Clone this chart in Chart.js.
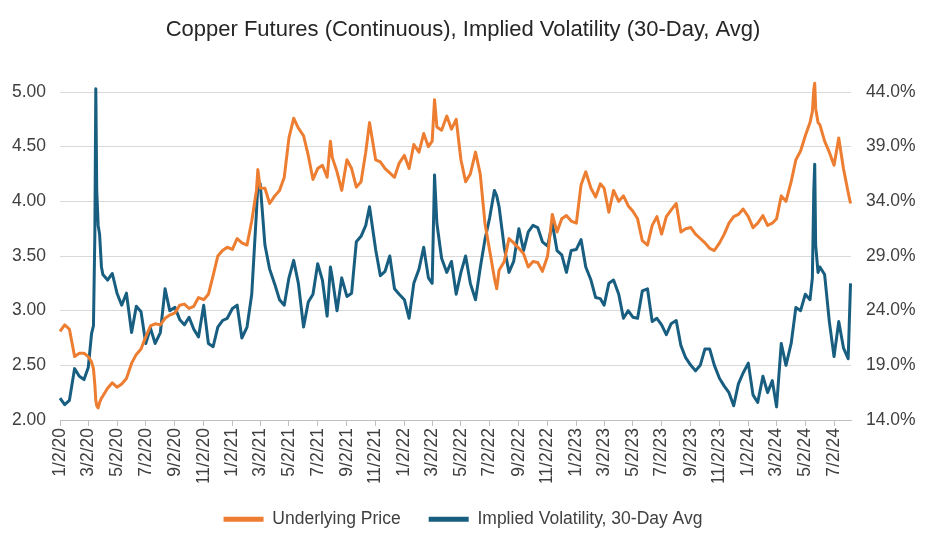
<!DOCTYPE html>
<html><head><meta charset="utf-8">
<script src="https://cdn.jsdelivr.net/npm/chart.js@4.4.1/dist/chart.umd.min.js"></script>
<style>html,body{margin:0;padding:0;background:#fff;}#wrap{width:926px;height:544px;}</style>
</head><body><div id="wrap"><canvas id="c" width="926" height="544"></canvas></div>
<script>
const chartTitle = "Copper Futures (Continuous), Implied Volatility (30-Day, Avg)";
const seriesNames = ["Underlying Price", "Implied Volatility, 30-Day Avg"];
const tickLabels = ["1/2/20","3/2/20","5/2/20","7/2/20","9/2/20","11/2/20","1/2/21","3/2/21","5/2/21","7/2/21","9/2/21","11/2/21","1/2/22","3/2/22","5/2/22","7/2/22","9/2/22","11/2/22","1/2/23","3/2/23","5/2/23","7/2/23","9/2/23","11/2/23","1/2/24","3/2/24","5/2/24","7/2/24"];
const xStart = "2020-01-02", xEnd = "2024-08-07";

const dates2020 = ["2020-01-02","2020-01-12","2020-01-22","2020-02-02","2020-02-12","2020-02-22","2020-03-02","2020-03-09","2020-03-13","2020-03-16","2020-03-18","2020-03-20","2020-03-23","2020-03-26","2020-03-30","2020-04-02","2020-04-12","2020-04-22","2020-05-02","2020-05-12","2020-05-22","2020-06-02","2020-06-12","2020-06-22","2020-07-02","2020-07-12","2020-07-22","2020-08-02","2020-08-12","2020-08-22","2020-09-02","2020-09-12","2020-09-22","2020-10-02","2020-10-12","2020-10-22","2020-11-02","2020-11-12","2020-11-22","2020-12-02","2020-12-12","2020-12-22"];
const price2020 = [2.81,2.87,2.83,2.58,2.61,2.61,2.58,2.53,2.47,2.32,2.18,2.13,2.11,2.16,2.20,2.22,2.29,2.34,2.30,2.33,2.38,2.52,2.60,2.65,2.76,2.86,2.88,2.87,2.93,2.96,2.98,3.05,3.06,3.02,3.04,3.12,3.10,3.15,3.32,3.50,3.55,3.58];
const vol2020 = [16.0,15.4,15.8,18.7,18.0,17.7,18.8,21.9,22.6,31.0,44.3,35.0,31.8,31.0,28.0,27.3,26.8,27.4,25.6,24.5,25.6,22.0,24.4,23.9,21.0,22.4,21.0,22.0,26.0,24.0,24.3,23.2,22.7,23.4,22.3,21.6,24.5,21.0,20.7,22.5,23.1,23.3];

const dates2021 = ["2021-01-02","2021-01-12","2021-01-22","2021-02-02","2021-02-12","2021-02-22","2021-02-25","2021-03-02","2021-03-12","2021-03-22","2021-04-02","2021-04-12","2021-04-22","2021-05-02","2021-05-12","2021-05-22","2021-06-02","2021-06-12","2021-06-22","2021-07-02","2021-07-12","2021-07-22","2021-07-29","2021-08-02","2021-08-12","2021-08-22","2021-09-02","2021-09-12","2021-09-22","2021-10-02","2021-10-12","2021-10-20","2021-11-02","2021-11-12","2021-11-22","2021-12-02","2021-12-12","2021-12-22"];
const price2021 = [3.56,3.66,3.62,3.60,3.82,4.10,4.29,4.12,4.12,3.98,4.05,4.10,4.22,4.58,4.76,4.67,4.60,4.42,4.20,4.30,4.33,4.22,4.55,4.40,4.27,4.10,4.38,4.30,4.13,4.18,4.45,4.72,4.38,4.36,4.30,4.26,4.22,4.35];
const vol2021 = [24.2,24.5,21.5,22.5,25.5,33.0,35.5,35.6,30.0,27.8,26.4,25.0,24.5,27.0,28.6,26.5,22.5,24.8,25.5,28.3,26.8,23.5,28.0,27.0,24.0,27.0,25.3,25.6,30.3,30.8,31.8,33.5,29.6,27.2,27.6,29.0,26.0,25.5];

const dates2022 = ["2022-01-02","2022-01-12","2022-01-22","2022-02-02","2022-02-12","2022-02-22","2022-03-02","2022-03-07","2022-03-12","2022-03-22","2022-04-02","2022-04-12","2022-04-22","2022-05-02","2022-05-12","2022-05-22","2022-06-02","2022-06-12","2022-06-22","2022-07-02","2022-07-12","2022-07-17","2022-07-22","2022-08-02","2022-08-12","2022-08-22","2022-09-02","2022-09-12","2022-09-22","2022-10-02","2022-10-12","2022-10-22","2022-11-02","2022-11-12","2022-11-22","2022-12-02","2022-12-12","2022-12-22"];
const price2022 = [4.42,4.30,4.52,4.45,4.62,4.50,4.55,4.93,4.68,4.65,4.78,4.66,4.75,4.38,4.18,4.25,4.45,4.25,3.80,3.55,3.30,3.20,3.37,3.45,3.66,3.62,3.57,3.52,3.40,3.45,3.44,3.36,3.50,3.88,3.72,3.84,3.87,3.82];
const vol2022 = [25.0,23.3,26.5,27.8,29.8,27.0,26.5,36.4,32.0,28.8,27.5,28.5,25.5,27.5,29.0,26.5,25.0,27.9,30.5,32.5,35.0,34.5,33.5,29.8,27.5,28.5,31.5,29.5,31.2,31.8,31.6,30.3,29.9,32.0,29.5,29.1,27.5,29.5];

const dates2023 = ["2023-01-02","2023-01-12","2023-01-22","2023-02-02","2023-02-12","2023-02-22","2023-03-02","2023-03-12","2023-03-22","2023-04-02","2023-04-12","2023-04-22","2023-05-02","2023-05-12","2023-05-22","2023-06-02","2023-06-12","2023-06-22","2023-07-02","2023-07-12","2023-07-22","2023-08-02","2023-08-12","2023-08-22","2023-09-02","2023-09-12","2023-09-22","2023-10-02","2023-10-12","2023-10-22","2023-11-02","2023-11-12","2023-11-22","2023-12-02","2023-12-12","2023-12-22"];
const price2023 = [3.80,4.15,4.27,4.12,4.04,4.16,4.12,3.90,4.10,4.00,4.05,3.96,3.91,3.84,3.64,3.60,3.78,3.86,3.70,3.86,3.92,3.98,3.72,3.75,3.76,3.70,3.66,3.62,3.57,3.55,3.62,3.70,3.80,3.86,3.88,3.93];
const vol2023 = [29.6,30.5,28.0,26.8,25.2,25.1,24.5,26.5,26.8,25.5,23.3,24.0,23.4,23.3,25.8,26.0,23.0,23.3,22.7,21.8,22.8,23.1,20.8,19.7,19.0,18.5,19.0,20.5,20.5,19.0,17.8,17.1,16.5,15.3,17.3,18.3];

const dates2024 = ["2024-01-02","2024-01-12","2024-01-22","2024-02-02","2024-02-12","2024-02-22","2024-03-02","2024-03-12","2024-03-22","2024-04-02","2024-04-12","2024-04-22","2024-05-02","2024-05-12","2024-05-17","2024-05-20","2024-05-22","2024-05-24","2024-05-29","2024-06-02","2024-06-12","2024-06-22","2024-07-02","2024-07-12","2024-07-22","2024-08-01","2024-08-06"];
const price2024 = [3.86,3.76,3.80,3.87,3.78,3.80,3.84,4.05,4.00,4.18,4.38,4.46,4.60,4.72,4.82,5.02,5.08,4.85,4.72,4.70,4.55,4.45,4.33,4.58,4.30,4.08,3.98];
const vol2024 = [19.2,16.3,15.6,18.0,16.5,17.6,15.2,21.0,19.0,21.0,24.3,24.0,25.5,25.0,27.0,35.0,37.4,30.0,27.5,28.0,27.3,23.0,19.8,23.0,20.6,19.6,26.5];

const FONT = "'Liberation Sans', Arial, sans-serif";
const dayNum = s => { const [y,m,d] = s.split("-").map(Number); return Date.UTC(y, m-1, d) / 864e5; };
const tickDay = s => { const [m,d,y] = s.split("/").map(Number); return Date.UTC(2000+y, m-1, d) / 864e5; };
const tickVals = tickLabels.map(tickDay);
const allDates = [].concat(dates2020, dates2021, dates2022, dates2023, dates2024);
const allPrice = [].concat(price2020, price2021, price2022, price2023, price2024);
const allVol = [].concat(vol2020, vol2021, vol2022, vol2023, vol2024);
const priceData = allDates.map((d,i) => ({x: dayNum(d), y: allPrice[i]}));
const volData = allDates.map((d,i) => ({x: dayNum(d), y: allVol[i]}));

new Chart(document.getElementById("c"), {
  type: "line",
  data: { datasets: [
    { label: seriesNames[0], data: priceData, yAxisID: "y", borderColor: "#ED7D31", backgroundColor: "#ED7D31", borderWidth: 3, pointRadius: 0, tension: 0, clip: false, borderJoinStyle: "round" },
    { label: seriesNames[1], data: volData, yAxisID: "y1", borderColor: "#185E80", backgroundColor: "#185E80", borderWidth: 3, pointRadius: 0, tension: 0, clip: false, borderJoinStyle: "round" }
  ]},
  options: {
    responsive: false, animation: false, devicePixelRatio: 1,
    layout: { padding: { left: 0, right: 0, top: 0, bottom: 6 } },
    plugins: {
      title: { display: true, text: chartTitle, color: "#262626", font: { family: FONT, size: 22, weight: "normal" }, padding: { top: 17, bottom: 48.6 } },
      legend: { position: "bottom", labels: { boxWidth: 40, boxHeight: 5, padding: 28, color: "#404040", font: { family: FONT, size: 17.5 },
        generateLabels: ch => Chart.defaults.plugins.legend.labels.generateLabels(ch).map(l => Object.assign(l, { lineWidth: 0 })) } },
      tooltip: { enabled: false }
    },
    scales: {
      x: { type: "linear", min: dayNum(xStart), max: dayNum(xEnd),
        afterBuildTicks: s => { s.ticks = tickVals.map(v => ({ value: v })); },
        afterFit: s => { s.height = 62.5; },
        ticks: { autoSkip: false, minRotation: 90, maxRotation: 90, padding: 2, color: "#404040", font: { family: FONT, size: 17.5 },
          callback: v => { const i = tickVals.indexOf(v); return i >= 0 ? tickLabels[i] : ""; } },
        grid: { drawOnChartArea: false, drawTicks: true, tickLength: 6, color: "#bfbfbf" },
        border: { display: true, color: "#bfbfbf" } },
      y: { position: "left", min: 2, max: 5,
        afterFit: s => { s.width = 60; },
        ticks: { stepSize: 0.5, padding: 14, color: "#404040", font: { family: FONT, size: 17.5 }, callback: v => v.toFixed(2) },
        grid: { color: "#d9d9d9", drawTicks: false }, border: { display: false } },
      y1: { position: "right", min: 14, max: 44,
        afterFit: s => { s.width = 75; },
        ticks: { stepSize: 5, padding: 15, color: "#404040", font: { family: FONT, size: 17.5 }, callback: v => v.toFixed(1) + "%" },
        grid: { drawOnChartArea: false, drawTicks: false }, border: { display: false } }
    }
  }
});
</script></body></html>
